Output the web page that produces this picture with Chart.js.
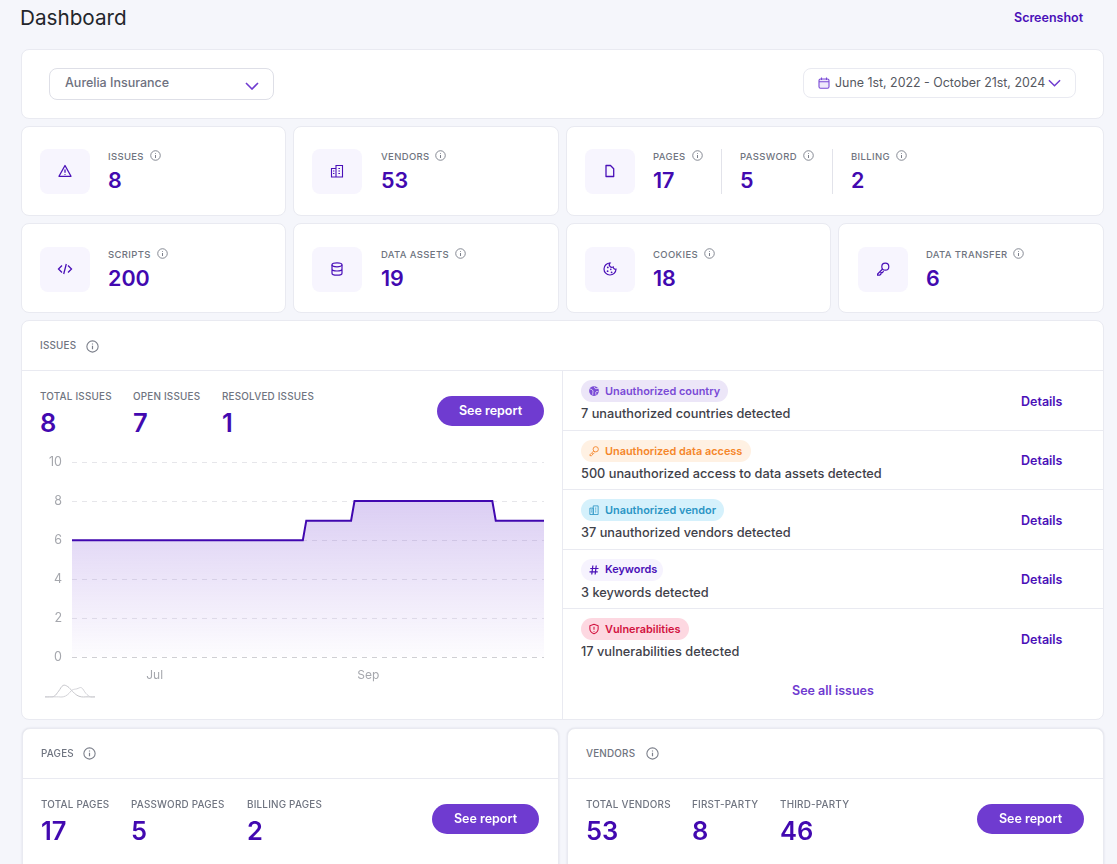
<!DOCTYPE html>
<html>
<head>
<meta charset="utf-8">
<title>Dashboard</title>
<script src="https://cdn.jsdelivr.net/npm/chart.js@4"></script>
<style>
html, body { margin: 0; padding: 0; }
body { width: 1117px; height: 864px; overflow: hidden; position: relative; background: #f5f6fb; font-family: Inter, sans-serif; color: #3f4149; }
.abs, .card, .ibox, .lab, .val, .num, .tlab, .btn, .badge, .row, .det, .sep, .ic { position: absolute; }
.card { background: #fff; border: 1px solid #e9eaf1; border-radius: 8px; box-sizing: border-box; }
.ibox { width: 50px; height: 45px; left: 40px; background: #f7f5fe; border-radius: 8px; }
.ibox svg { position: absolute; left: 17px; top: 14px; width: 16px; height: 16px; color: #4a10b8; }
.lab { font-size: 9.5px; font-weight: 500; letter-spacing: .35px; color: #6f7480; line-height: 12px; white-space: nowrap; }
.val { font-size: 21.5px; font-weight: 600; color: #4209b0; line-height: 26px; }
.num { font-size: 25.5px; font-weight: 600; color: #4209b0; line-height: 30px; }
.tlab { font-size: 9.9px; font-weight: 500; letter-spacing: .2px; color: #6f7480; line-height: 12px; white-space: nowrap; }
.btn { width: 107px; height: 30px; border-radius: 15px; background: #6f3bd0; color: #fff; font-size: 12.5px; font-weight: 600; line-height: 29px; text-align: center; }
.badge { left: 581px; height: 22px; border-radius: 11px; font-size: 10.9px; font-weight: 600; line-height: 23px; padding-left: 24px; box-sizing: border-box; white-space: nowrap; }
.badge svg { position: absolute; left: 7px; top: 5px; width: 12px; height: 12px; }
.row { left: 581px; font-size: 12.75px; font-weight: 500; line-height: 16px; color: #3f4149; white-space: nowrap; }
.det { left: 1021px; font-size: 12.5px; font-weight: 600; line-height: 16px; color: #4a10b8; }
.sep { left: 563px; width: 541px; height: 1px; background: #e9eaf1; }
.ic { width: 12px; height: 12px; color: #6f7480; }
.info { width: 11px; height: 11px; color: #7b7f8a; position: absolute; }
</style>
</head>
<body>
<svg width="0" height="0" style="position:absolute">
  <defs>
    <symbol id="i-info" viewBox="0 0 12 12"><circle cx="6" cy="6" r="5.2" fill="none" stroke="currentColor" stroke-width="1"/><path d="M6 5.4v3.2M6 3.2v.9" stroke="currentColor" stroke-width="1.1" fill="none"/></symbol>
    <symbol id="i-warn" viewBox="0 0 16 16"><path d="M8 2.5 14 13.3H2Z M8 6.5v3.2M8 11v.8" fill="none" stroke="currentColor" stroke-width="1.3" stroke-linejoin="round"/></symbol>
    <symbol id="i-vendor" viewBox="0 0 16 16"><path d="M2.5 5.5h4.5v8.5H2.5Z M7 2.5h6.5v11.5H7Z M4 8h1.4M4 10.5h1.4M9.4 5.5h1.6M9.4 8h1.6M9.4 10.5h1.6" fill="none" stroke="currentColor" stroke-width="1.1"/></symbol>
    <symbol id="i-page" viewBox="0 0 16 16"><path d="M4 2.500h4.500l3.200 3.300V13.500H4Z" fill="none" stroke="currentColor" stroke-width="1.300" stroke-linejoin="round"/></symbol>
    <symbol id="i-code" viewBox="0 0 16 16"><path d="M5 4.500 1.500 8 5 11.500M11 4.500 14.500 8 11 11.500M9.300 3 6.700 13" fill="none" stroke="currentColor" stroke-width="1.300"/></symbol>
    <symbol id="i-db" viewBox="0 0 16 16"><ellipse cx="8" cy="3.800" rx="5" ry="2" fill="none" stroke="currentColor" stroke-width="1.200"/><path d="M3 3.800v8.400c0 1.100 2.200 2 5 2s5-.9 5-2V3.800M3 8c0 1.100 2.200 2 5 2s5-.9 5-2" fill="none" stroke="currentColor" stroke-width="1.200"/></symbol>
    <symbol id="i-cookie" viewBox="0 0 16 16"><path d="M8 2a6 6 0 1 0 6 6.200 2.400 2.400 0 0 1-2.800-2.200A2.600 2.600 0 0 1 8 2Z" fill="none" stroke="currentColor" stroke-width="1.200"/><circle cx="5.800" cy="6.400" r=".9" fill="currentColor"/><circle cx="5.600" cy="10.200" r=".9" fill="currentColor"/><circle cx="8.800" cy="8.400" r=".8" fill="currentColor"/><circle cx="9.600" cy="11.300" r=".9" fill="currentColor"/></symbol>
    <symbol id="i-key" viewBox="0 0 16 16"><circle cx="10.300" cy="5.700" r="3.500" fill="none" stroke="currentColor" stroke-width="1.200"/><path d="M7.600 8 2.600 13v1.200h2.200L6 13V11.600h1.400l1.200-1.400" fill="none" stroke="currentColor" stroke-width="1.200"/></symbol>
    <symbol id="i-globe" viewBox="0 0 16 16"><circle cx="8" cy="8" r="6.500" fill="currentColor"/><path d="M3 5.500c2 .3 3 1 3.600 2.400C7 9.400 6 10.500 6.400 13M9 2.500c-.6 1.500.3 2.400 2 2.400l2.400-.6M13.700 9c-1.500-.7-3-.4-3.400.9-.3 1 .3 2 .3 3" fill="none" stroke="#ece6f8" stroke-width="1.200"/></symbol>
    <symbol id="i-hash" viewBox="0 0 16 16"><path d="M3 6h11M2 10.500h11M6.500 2 5 14M11 2 9.500 14" fill="none" stroke="currentColor" stroke-width="1.600"/></symbol>
    <symbol id="i-shield" viewBox="0 0 16 16"><path d="M8 1.800 13.500 3.600V8c0 3-2.400 5-5.500 6.300C4.900 13 2.500 11 2.500 8V3.600Z M8 5v4M8 10.500v1" fill="none" stroke="currentColor" stroke-width="1.400" stroke-linejoin="round"/></symbol>
    <symbol id="i-chev" viewBox="0 0 14 8"><path d="M1 1 7 7l6-6" fill="none" stroke="currentColor" stroke-width="1.600"/></symbol>
    <symbol id="i-cal" viewBox="0 0 12 12"><rect x="1" y="2" width="10" height="9.200" rx="1.500" fill="#efe9fb" stroke="currentColor" stroke-width="1.100"/><path d="M1 4.800h10M3.500.6v2.400M8.500.6v2.400" stroke="currentColor" stroke-width="1.100"/></symbol>
  </defs>
</svg>

<div class="abs" style="left:20px;top:5px;font-size:20.7px;line-height:26px;color:#23262b;">Dashboard</div>
<div class="abs" style="left:1014px;top:10px;font-size:12.5px;line-height:16px;font-weight:600;color:#4a10b8;">Screenshot</div>

<div class="card" style="left:21px;top:49px;width:1083px;height:70px;"></div>
<div class="card" style="left:49px;top:68px;width:225px;height:32px;border-color:#dedfe7;"></div>
<div class="abs" style="left:65px;top:75px;font-size:12.5px;line-height:16px;font-weight:500;color:#6e7180;">Aurelia Insurance</div>
<svg class="abs" style="left:245px;top:82px;width:14px;height:8px;color:#6f3bd0;"><use href="#i-chev"/></svg>
<div class="card" style="left:803px;top:68px;width:273px;height:30px;"></div>
<svg class="abs" style="left:818px;top:77px;width:12px;height:12px;color:#7a4ad6;"><use href="#i-cal"/></svg>
<div class="abs" style="left:835px;top:75px;font-size:12.4px;line-height:16px;color:#55585f;white-space:nowrap;">June 1st, 2022 - October 21st, 2024</div>
<svg class="abs" style="left:1048px;top:79px;width:13px;height:8px;color:#6f3bd0;"><use href="#i-chev"/></svg>

<!-- stat cards, row 1 -->
<div class="card" style="left:21px;top:126px;width:265px;height:90px;"></div>
<div class="ibox" style="top:149px;"><svg><use href="#i-warn"/></svg></div>
<div class="lab" style="left:108px;top:151px;">ISSUES</div>
<svg class="info" style="left:150px;top:150px;"><use href="#i-info"/></svg>
<div class="val" style="left:108px;top:167px;">8</div>

<div class="card" style="left:293px;top:126px;width:266px;height:90px;"></div>
<div class="ibox" style="left:312px;top:149px;"><svg><use href="#i-vendor"/></svg></div>
<div class="lab" style="left:381px;top:151px;">VENDORS</div>
<svg class="info" style="left:435px;top:150px;"><use href="#i-info"/></svg>
<div class="val" style="left:381px;top:167px;">53</div>

<div class="card" style="left:566px;top:126px;width:538px;height:90px;"></div>
<div class="ibox" style="left:585px;top:149px;"><svg><use href="#i-page"/></svg></div>
<div class="lab" style="left:653px;top:151px;">PAGES</div>
<svg class="info" style="left:692px;top:150px;"><use href="#i-info"/></svg>
<div class="val" style="left:653px;top:167px;">17</div>
<div class="abs" style="left:721px;top:149px;width:1px;height:45px;background:#e2e3ea;"></div>
<div class="lab" style="left:740px;top:151px;">PASSWORD</div>
<svg class="info" style="left:803px;top:150px;"><use href="#i-info"/></svg>
<div class="val" style="left:740px;top:167px;">5</div>
<div class="abs" style="left:832px;top:149px;width:1px;height:45px;background:#e2e3ea;"></div>
<div class="lab" style="left:851px;top:151px;">BILLING</div>
<svg class="info" style="left:896px;top:150px;"><use href="#i-info"/></svg>
<div class="val" style="left:851px;top:167px;">2</div>

<!-- stat cards, row 2 -->
<div class="card" style="left:21px;top:223px;width:265px;height:90px;"></div>
<div class="ibox" style="top:247px;"><svg><use href="#i-code"/></svg></div>
<div class="lab" style="left:108px;top:249px;">SCRIPTS</div>
<svg class="info" style="left:157px;top:248px;"><use href="#i-info"/></svg>
<div class="val" style="left:108px;top:265px;">200</div>

<div class="card" style="left:293px;top:223px;width:266px;height:90px;"></div>
<div class="ibox" style="left:312px;top:247px;"><svg><use href="#i-db"/></svg></div>
<div class="lab" style="left:381px;top:249px;">DATA ASSETS</div>
<svg class="info" style="left:455px;top:248px;"><use href="#i-info"/></svg>
<div class="val" style="left:381px;top:265px;">19</div>

<div class="card" style="left:566px;top:223px;width:265px;height:90px;"></div>
<div class="ibox" style="left:585px;top:247px;"><svg><use href="#i-cookie"/></svg></div>
<div class="lab" style="left:653px;top:249px;">COOKIES</div>
<svg class="info" style="left:704px;top:248px;"><use href="#i-info"/></svg>
<div class="val" style="left:653px;top:265px;">18</div>

<div class="card" style="left:838px;top:223px;width:266px;height:90px;"></div>
<div class="ibox" style="left:858px;top:247px;"><svg><use href="#i-key"/></svg></div>
<div class="lab" style="left:926px;top:249px;">DATA TRANSFER</div>
<svg class="info" style="left:1013px;top:248px;"><use href="#i-info"/></svg>
<div class="val" style="left:926px;top:265px;">6</div>

<!-- issues panel -->
<div class="card" style="left:21px;top:320px;width:1083px;height:400px;"></div>
<div class="abs" style="left:22px;top:370px;width:1082px;height:1px;background:#e9eaf1;"></div>
<div class="abs" style="left:562px;top:371px;width:1px;height:348px;background:#e9eaf1;"></div>
<div class="tlab" style="left:40px;top:339px;">ISSUES</div>
<svg class="info" style="left:86px;top:340px;width:13px;height:13px;"><use href="#i-info"/></svg>

<div class="tlab" style="left:40px;top:390px;">TOTAL ISSUES</div>
<div class="num" style="left:40px;top:408px;">8</div>
<div class="tlab" style="left:133px;top:390px;">OPEN ISSUES</div>
<div class="num" style="left:133px;top:408px;">7</div>
<div class="tlab" style="left:222px;top:390px;">RESOLVED ISSUES</div>
<div class="num" style="left:222px;top:408px;">1</div>
<div class="btn" style="left:437px;top:396px;">See report</div>

<div class="abs" style="left:30px;top:450px;width:520px;height:240px;"><canvas id="issuesChart" width="520" height="240"></canvas></div>
<div class="abs" style="left:45px;top:682px;width:50px;height:16px;"><canvas id="brushChart" width="50" height="16"></canvas></div>

<div class="badge" style="top:380px;width:147px;background:#ece6f8;color:#7a4ad6;"><svg><use href="#i-globe"/></svg>Unauthorized country</div>
<div class="row" style="top:406px;">7 unauthorized countries detected</div>
<div class="det" style="top:394px;">Details</div>
<div class="sep" style="top:430px;"></div>

<div class="badge" style="top:440px;width:170px;background:#fff1e3;color:#f5862a;line-height:22px;"><svg><use href="#i-key"/></svg>Unauthorized data access</div>
<div class="row" style="top:466px;">500 unauthorized access to data assets detected</div>
<div class="det" style="top:453px;">Details</div>
<div class="sep" style="top:489px;"></div>

<div class="badge" style="top:499px;width:143px;background:#d5f1fc;color:#2b95c5;"><svg><use href="#i-vendor"/></svg>Unauthorized vendor</div>
<div class="row" style="top:525px;">37 unauthorized vendors detected</div>
<div class="det" style="top:513px;">Details</div>
<div class="sep" style="top:549px;"></div>

<div class="badge" style="top:559px;width:82px;background:#f6f3fe;color:#4a10b8;line-height:21px;"><svg><use href="#i-hash"/></svg>Keywords</div>
<div class="row" style="top:585px;">3 keywords detected</div>
<div class="det" style="top:572px;">Details</div>
<div class="sep" style="top:608px;"></div>

<div class="badge" style="top:618px;width:108px;background:#fdd8e1;color:#d2123f;"><svg><use href="#i-shield"/></svg>Vulnerabilities</div>
<div class="row" style="top:644px;">17 vulnerabilities detected</div>
<div class="det" style="top:632px;">Details</div>

<div class="abs" style="left:792px;top:683px;font-size:12.5px;line-height:16px;font-weight:600;color:#6f3bd0;">See all issues</div>

<!-- lower panels -->
<div class="card" style="left:22px;top:728px;width:537px;height:160px;box-shadow:0 0 2px #d9dae3;"></div>
<div class="abs" style="left:23px;top:778px;width:535px;height:1px;background:#e9eaf1;"></div>
<div class="tlab" style="left:41px;top:747px;">PAGES</div>
<svg class="info" style="left:83px;top:747px;width:13px;height:13px;"><use href="#i-info"/></svg>
<div class="tlab" style="left:41px;top:798px;">TOTAL PAGES</div>
<div class="num" style="left:41px;top:816px;">17</div>
<div class="tlab" style="left:131px;top:798px;">PASSWORD PAGES</div>
<div class="num" style="left:131px;top:816px;">5</div>
<div class="tlab" style="left:247px;top:798px;">BILLING PAGES</div>
<div class="num" style="left:247px;top:816px;">2</div>
<div class="btn" style="left:432px;top:804px;">See report</div>

<div class="card" style="left:567px;top:728px;width:537px;height:160px;box-shadow:0 0 2px #d9dae3;"></div>
<div class="abs" style="left:568px;top:778px;width:535px;height:1px;background:#e9eaf1;"></div>
<div class="tlab" style="left:586px;top:747px;">VENDORS</div>
<svg class="info" style="left:646px;top:747px;width:13px;height:13px;"><use href="#i-info"/></svg>
<div class="tlab" style="left:586px;top:798px;">TOTAL VENDORS</div>
<div class="num" style="left:586px;top:816px;">53</div>
<div class="tlab" style="left:692px;top:798px;">FIRST-PARTY</div>
<div class="num" style="left:692px;top:816px;">8</div>
<div class="tlab" style="left:780px;top:798px;">THIRD-PARTY</div>
<div class="num" style="left:780px;top:816px;">46</div>
<div class="btn" style="left:977px;top:804px;">See report</div>

<script>
// Days since the start of the range, and the open issue count on that day
const issueDays = [0, 67, 68, 81, 82, 122, 123, 137];
const issueCounts = [6, 6, 7, 7, 8, 8, 7, 7];
const monthTickDays = [24, 86];
const monthTickLabels = ['Jul', 'Sep'];

// Little overview shapes under the chart
const brushLabels = ['', '', '', '', '', '', '', '', '', '', '', ''];
const brushFirst = [0, 0, 0.5, 5, 10, 9, 5, 1.5, 0, 0, 0, 0];
const brushSecond = [0, 0, 0, 0, 0, 2, 6, 7, 8, 3, 0, 0];

document.addEventListener('DOMContentLoaded', function() {
    initIssuesChart();
    initBrushChart();
});

function initIssuesChart() {
    const ctx = document.getElementById('issuesChart').getContext('2d');
    new Chart(ctx, {
        type: 'line',
        data: {
            datasets: [{
                data: issueDays.map((day, i) => ({ x: day, y: issueCounts[i] })),
                borderColor: '#4108b0',
                borderWidth: 2,
                pointRadius: 0,
                tension: 0,
                fill: 'origin',
                backgroundColor: function(context) {
                    const chart = context.chart;
                    if (!chart.chartArea) return 'transparent';
                    const top = chart.scales.y.getPixelForValue(8);
                    const gradient = chart.ctx.createLinearGradient(0, top, 0, chart.chartArea.bottom);
                    gradient.addColorStop(0, 'rgba(111, 59, 208, 0.25)');
                    gradient.addColorStop(1, 'rgba(111, 59, 208, 0.01)');
                    return gradient;
                }
            }]
        },
        options: {
            responsive: false,
            animation: false,
            layout: { padding: { top: 12, right: 6, left: 0, bottom: 0 } },
            plugins: { legend: { display: false }, tooltip: { enabled: false } },
            scales: {
                x: {
                    type: 'linear',
                    min: 0,
                    max: 137,
                    grid: { display: false },
                    border: { display: false },
                    afterBuildTicks: function(scale) {
                        scale.ticks = monthTickDays.map(day => ({ value: day }));
                    },
                    afterFit: function(scale) { scale.height = 32.5; },
                    ticks: {
                        autoSkip: false,
                        maxRotation: 0,
                        padding: 3,
                        color: '#a5a7ad',
                        font: { family: 'Inter', size: 12 },
                        callback: (value, index) => monthTickLabels[index]
                    }
                },
                y: {
                    min: 0,
                    max: 10,
                    afterFit: function(scale) {
                        // tick padding would otherwise push the plot top down
                        scale.width = 42;
                        scale.paddingTop = 0;
                        scale.paddingBottom = 0;
                    },
                    border: { display: false, dash: [5, 5] },
                    grid: {
                        drawTicks: false,
                        color: context => context.tick.value === 0 ? '#cfcfd4' : '#e6e6ea'
                    },
                    ticks: {
                        stepSize: 2,
                        padding: 10,
                        color: '#a5a7ad',
                        font: { family: 'Inter', size: 12.5 }
                    }
                }
            }
        }
    });
}

function initBrushChart() {
    const ctx = document.getElementById('brushChart').getContext('2d');
    new Chart(ctx, {
        type: 'line',
        data: {
            labels: brushLabels,
            datasets: [
                { data: brushSecond, borderColor: '#d2d2d7', borderWidth: 1, pointRadius: 0, tension: 0.4 },
                { data: brushFirst, borderColor: '#c4c4c9', borderWidth: 1, pointRadius: 0, tension: 0.4 }
            ]
        },
        options: {
            responsive: false,
            animation: false,
            plugins: { legend: { display: false }, tooltip: { enabled: false } },
            scales: {
                x: { display: false },
                y: { display: false, min: -1, max: 13 }
            }
        }
    });
}
</script>
</body>
</html>
